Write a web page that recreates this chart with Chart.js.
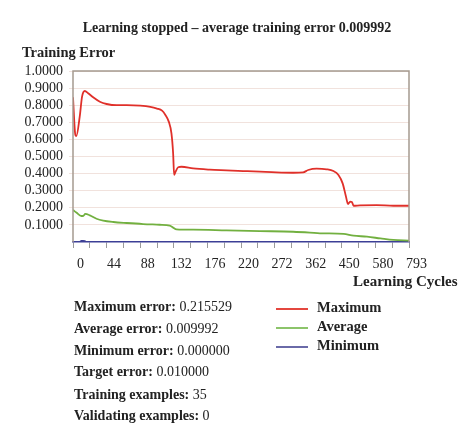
<!DOCTYPE html>
<html><head><meta charset="utf-8">
<script src="https://cdn.jsdelivr.net/npm/chart.js@4"></script>
<style>
html,body{margin:0;padding:0;background:#fff;}
#wrap{position:relative;width:474px;height:448px;overflow:hidden;font-family:"Liberation Serif","DejaVu Serif",serif;color:#222;}
canvas{position:absolute;left:0;top:0;}
.t{position:absolute;white-space:nowrap;}
#title{left:0;width:474px;text-align:center;top:20px;font-size:14px;font-weight:bold;}
#ytitle{left:22px;top:44px;font-size:14.5px;font-weight:bold;}
#xtitle{left:353px;top:273px;font-size:15px;font-weight:bold;}
.stat{left:74px;font-size:14px;}
.leg{left:317px;font-size:14.5px;font-weight:bold;}
.sw{position:absolute;left:276px;width:32px;height:0;border-top:2px solid;}
</style></head><body>
<div id="wrap">
<canvas id="c" width="474" height="448"></canvas>
<div class="t" id="title">Learning stopped – average training error 0.009992</div>
<div class="t" id="ytitle">Training Error</div>
<div class="t" id="xtitle">Learning Cycles</div>
<div id="stats"></div>
<div id="legend"></div>
</div>
<script>
// x-axis labels (non-linear cycle labels at evenly spaced positions)
const cycleLabels = ['0','44','88','132','176','220','272','362','450','580','793'];
const yTicks = [0.1,0.2,0.3,0.4,0.5,0.6,0.7,0.8,0.9,1.0];

// Axis position (0..20 = 20 minor tick intervals) and series values
const maxPos = [0,0.14,0.2,0.4,0.54,0.7,0.9,1.2,1.6,2.0,2.6,3.2,4.0,4.6,5.0,5.3,5.5,5.7,5.86,5.96,6.02,6.1,6.26,6.46,7.15,8.14,9.14,10.13,11.12,12.1,13.1,13.7,14.0,14.5,15.1,15.5,15.8,16.05,16.25,16.37,16.5,16.6,16.7,17.08,18.07,19.07,20];
const maxVal = [0.846,0.626,0.62,0.733,0.85,0.883,0.87,0.846,0.82,0.807,0.80,0.80,0.797,0.79,0.78,0.768,0.743,0.704,0.635,0.519,0.392,0.41,0.437,0.44,0.43,0.423,0.419,0.415,0.411,0.407,0.405,0.407,0.421,0.429,0.425,0.415,0.392,0.343,0.265,0.222,0.236,0.234,0.212,0.214,0.216,0.212,0.212];

const avgPos = [0,0.2,0.5,0.6,0.73,1.0,1.4,1.8,2.4,3.2,4.17,5.16,5.76,5.96,6.16,7.15,9.14,11.12,13.1,14.1,14.7,16.1,16.7,17.5,18.3,19.07,20];
const avgVal = [0.187,0.172,0.152,0.152,0.164,0.156,0.136,0.125,0.117,0.111,0.105,0.101,0.096,0.084,0.074,0.072,0.068,0.064,0.060,0.055,0.051,0.047,0.037,0.031,0.021,0.012,0.008];

const minPos = [0,0.4,0.5,0.6,0.7,0.8,20];
const minVal = [0,0,0.006,0.006,0.004,0,0];

const stats = [['Maximum error:','0.215529'],['Average error:','0.009992'],['Minimum error:','0.000000'],['Target error:','0.010000'],['Training examples:','35'],['Validating examples:','0']];
const legendItems = [['Maximum','#e4473f'],['Average','#8cc46a'],['Minimum','#6a6aa8']];

const statTops = [299,321,343,364,387,408];
document.getElementById('stats').innerHTML = stats.map((s,i)=>`<div class="t stat" style="top:${statTops[i]}px"><b>${s[0]}</b> ${s[1]}</div>`).join('');
const legTops = [299,318,337];
document.getElementById('legend').innerHTML = legendItems.map((l,i)=>`<div class="sw" style="top:${legTops[i]+9}px;border-color:${l[1]}"></div><div class="t leg" style="top:${legTops[i]}px">${l[0]}</div>`).join('');

const toXY = (xs,ys)=>xs.map((x,i)=>({x:x,y:ys[i]}));

const frame = {id:'frame',afterDatasetsDraw(ch){const a=ch.chartArea,c=ch.ctx;c.save();c.strokeStyle='#a59a90';c.lineWidth=1.5;c.beginPath();c.moveTo(a.left,a.bottom);c.lineTo(a.left,a.top);c.lineTo(a.right,a.top);c.lineTo(a.right,a.bottom);c.stroke();c.restore();}};

new Chart(document.getElementById('c'),{
  type:'line',
  data:{datasets:[
    {label:'Maximum',data:toXY(maxPos,maxVal),borderColor:'#e0302a',borderWidth:1.8,pointRadius:0,cubicInterpolationMode:'monotone'},
    {label:'Average',data:toXY(avgPos,avgVal),borderColor:'#72b040',borderWidth:1.8,pointRadius:0,cubicInterpolationMode:'monotone'},
    {label:'Minimum',data:toXY(minPos,minVal),borderColor:'#3c3f96',borderWidth:2,pointRadius:0,cubicInterpolationMode:'monotone'}
  ]},
  options:{
    responsive:false,animation:false,
    layout:{padding:{left:0,right:65,top:71,bottom:0}},
    plugins:{legend:{display:false},tooltip:{enabled:false}},
    scales:{
      x:{type:'linear',min:0,max:20,
        afterFit(s){s.height=206;},
        grid:{drawOnChartArea:false,drawTicks:true,tickLength:6,color:'#9a9a9a',lineWidth:1},
        border:{display:true,color:'#3c3f96',width:1.5},
        ticks:{stepSize:1,autoSkip:false,maxRotation:0,padding:8,labelOffset:7.5,color:'#222',font:{family:'Liberation Serif',size:14},
          callback:(v)=> (v%2===0 ? cycleLabels[v/2] : '')}
      },
      y:{type:'linear',min:0,max:1,
        afterFit(s){s.width=73;},
        afterBuildTicks(s){s.ticks=[{value:0}].concat(yTicks.map(v=>({value:v})));},
        grid:{color:(ctx)=>ctx.tick && ctx.tick.value===0?'rgba(0,0,0,0)':'#f1e2dd',lineWidth:1,drawTicks:true,tickLength:4},
        border:{display:false},
        ticks:{autoSkip:false,padding:6,color:'#222',font:{family:'Liberation Serif',size:14},
          callback:(v)=> v===0 ? '' : v.toFixed(4)}
      }
    }
  },
  plugins:[frame]
});
</script>
</body></html>
